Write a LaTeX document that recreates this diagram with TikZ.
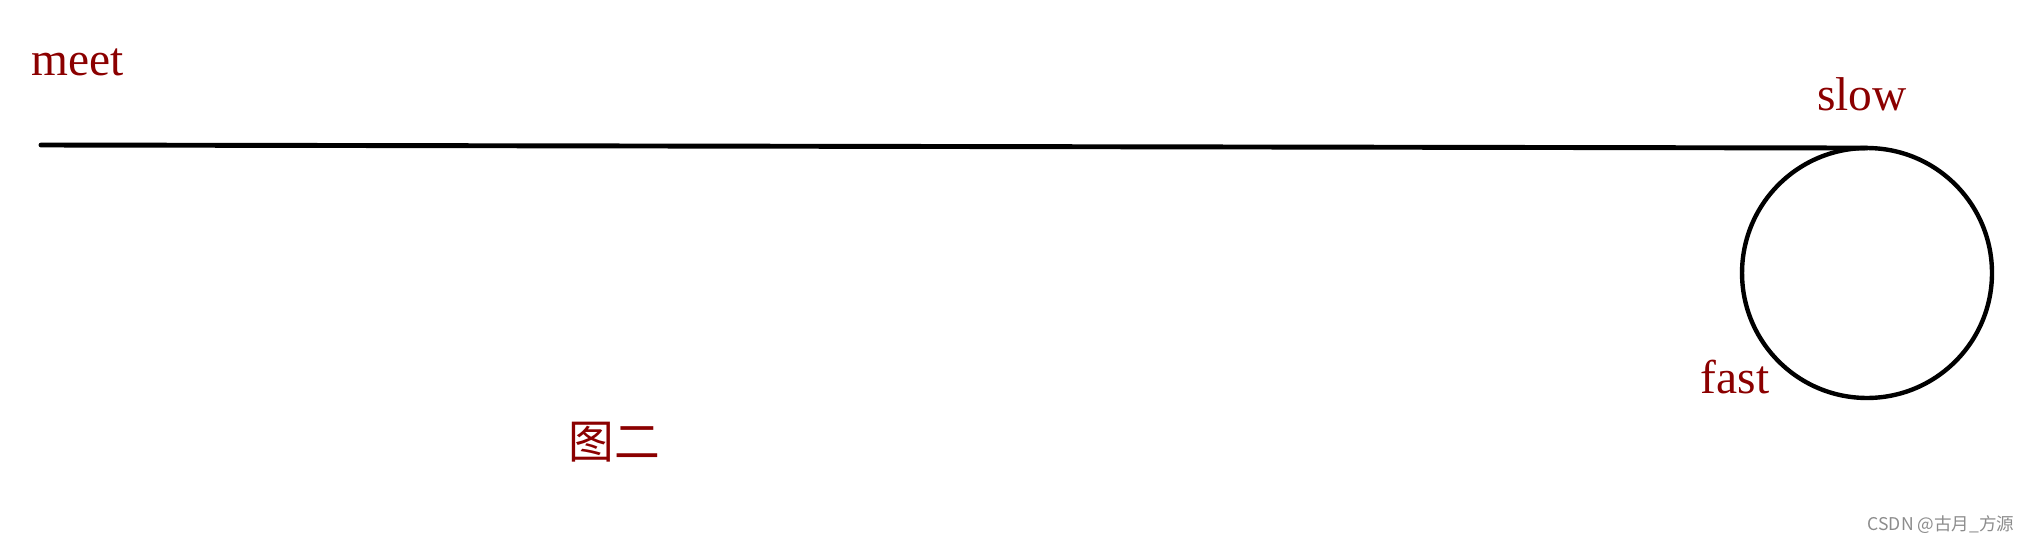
\documentclass[tikz,border=0pt]{standalone}
\usepackage{fontspec}
\setmainfont{Liberation Serif}
\newfontfamily\cjk{Noto Sans CJK SC}
\definecolor{textred}{RGB}{139,0,0}
\tikzset{
	lbl/.style={text=textred, font=\fontsize{27}{32}\selectfont, anchor=base, inner sep=0},
	figlbl/.style={text=textred, font=\cjk\fontsize{26}{30}\selectfont, anchor=base, inner sep=0},
	wmark/.style={text=black!45, font=\cjk\fontsize{10}{12}\selectfont, anchor=base, inner sep=0},
	track/.style={line width=2.8pt, line cap=round}
}

\begin{document}
\begin{tikzpicture}[x=0.02cm, y=-0.02cm]
	\useasboundingbox (0,0) rectangle (2035,541);
	\node[draw, circle, line width=2.5pt, minimum size=5cm, inner sep=0, outer sep=0] (loop) at (1867,273) {};
	\coordinate (start) at (41,145);
	\draw[track] (start) -- (loop.north);
	\draw (78,75) node[lbl] (meet) {meet};
	\draw (1862,110) node[lbl] (slow) {slow};
	\draw (1735,393) node[lbl] (fast) {fast};
	\draw (614,458) node[figlbl] (fig) {图二};
	\draw (1941,530) node[wmark] (mark) {CSDN @古月\_方源};
\end{tikzpicture}
\end{document}
